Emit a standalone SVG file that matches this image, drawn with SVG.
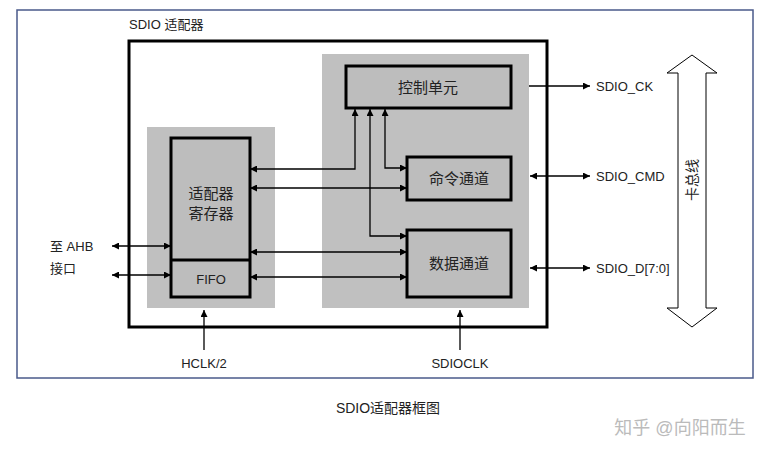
<svg xmlns="http://www.w3.org/2000/svg" width="777" height="458" viewBox="0 0 777 458">
<defs>
<marker id="a" viewBox="0 0 10 10" refX="10" refY="5" markerWidth="9" markerHeight="7" markerUnits="userSpaceOnUse" orient="auto-start-reverse"><path d="M0,0L10,5L0,10z" fill="#000"/></marker>
<style>
text{font-family:"Liberation Sans","Noto Sans CJK SC",sans-serif;fill:#222}
.b{fill:#bdbdbd;stroke:#000;stroke-width:3}
.g{fill:#c0c0c0}
.c line,.c path{stroke:#000;stroke-width:1.3;fill:none}
</style>
</defs>
<rect width="777" height="458" fill="#fff"/>
<rect x="17" y="10" width="736" height="368" fill="none" stroke="#4a5a8a" stroke-width="1.5"/>
<g id="adapter"><rect x="129" y="41" width="418" height="286" fill="#fff" stroke="#000" stroke-width="3"/>
<text x="129" y="29" font-size="13">SDIO 适配器</text></g>
<rect class="g" x="147" y="127" width="128" height="181"/>
<rect class="g" x="322" y="54" width="207" height="254"/>
<g id="reg"><rect class="b" x="171" y="138" width="79" height="159"/><line x1="171" y1="260" x2="250" y2="260" stroke="#000" stroke-width="3"/>
<text x="211" y="199" font-size="15" text-anchor="middle">适配器</text><text x="211" y="219" font-size="15" text-anchor="middle">寄存器</text>
<text x="211" y="284" font-size="13" text-anchor="middle">FIFO</text></g>
<g id="ctrl"><rect class="b" x="346" y="66" width="165" height="42"/><text x="428" y="93" font-size="15" text-anchor="middle">控制单元</text></g>
<g id="cmd"><rect class="b" x="407" y="157" width="104" height="43"/><text x="459" y="184" font-size="15" text-anchor="middle">命令通道</text></g>
<g id="data"><rect class="b" x="407" y="230" width="104" height="67"/><text x="459" y="269" font-size="15" text-anchor="middle">数据通道</text></g>
<g id="bus"><path d="M692,55L717,73H706V308H717L692,327L667,308H678V73H667Z" fill="#fff" stroke="#000" stroke-width="1"/>
<text font-size="14" text-anchor="middle" transform="translate(697,180) rotate(-90)">卡总线</text></g>
<g class="c">
<path d="M250,169H355V109" marker-start="url(#a)" marker-end="url(#a)"/>
<line x1="250" y1="188" x2="407" y2="188" marker-start="url(#a)" marker-end="url(#a)"/>
<path d="M407,168H385V109" marker-start="url(#a)" marker-end="url(#a)"/>
<path d="M407,236H370V109" marker-start="url(#a)" marker-end="url(#a)"/>
<line x1="250" y1="252" x2="407" y2="252" marker-start="url(#a)" marker-end="url(#a)"/>
<line x1="250" y1="277" x2="407" y2="277" marker-start="url(#a)" marker-end="url(#a)"/>
<line x1="112" y1="246" x2="171" y2="246" marker-start="url(#a)" marker-end="url(#a)"/>
<line x1="112" y1="275" x2="171" y2="275" marker-start="url(#a)" marker-end="url(#a)"/>
<line x1="204" y1="350" x2="204" y2="310" marker-end="url(#a)"/>
<line x1="460" y1="350" x2="460" y2="310" marker-end="url(#a)"/>
<line x1="529" y1="86" x2="590" y2="86" marker-end="url(#a)"/>
<line x1="530" y1="176" x2="590" y2="176" marker-start="url(#a)" marker-end="url(#a)"/>
<line x1="530" y1="268" x2="590" y2="268" marker-start="url(#a)" marker-end="url(#a)"/>
</g>
<g font-size="13">
<text x="50" y="251">至 AHB</text><text x="50" y="273">接口</text>
<text x="204" y="368" text-anchor="middle">HCLK/2</text><text x="460" y="368" text-anchor="middle">SDIOCLK</text>
<text x="596" y="91">SDIO_CK</text><text x="596" y="181">SDIO_CMD</text><text x="596" y="273">SDIO_D[7:0]</text>
</g>
<text x="388" y="413" font-size="14" text-anchor="middle">SDIO适配器框图</text>
<text x="680" y="434" font-size="18" text-anchor="middle" style="fill:#bbb">知乎 @向阳而生</text>
</svg>
